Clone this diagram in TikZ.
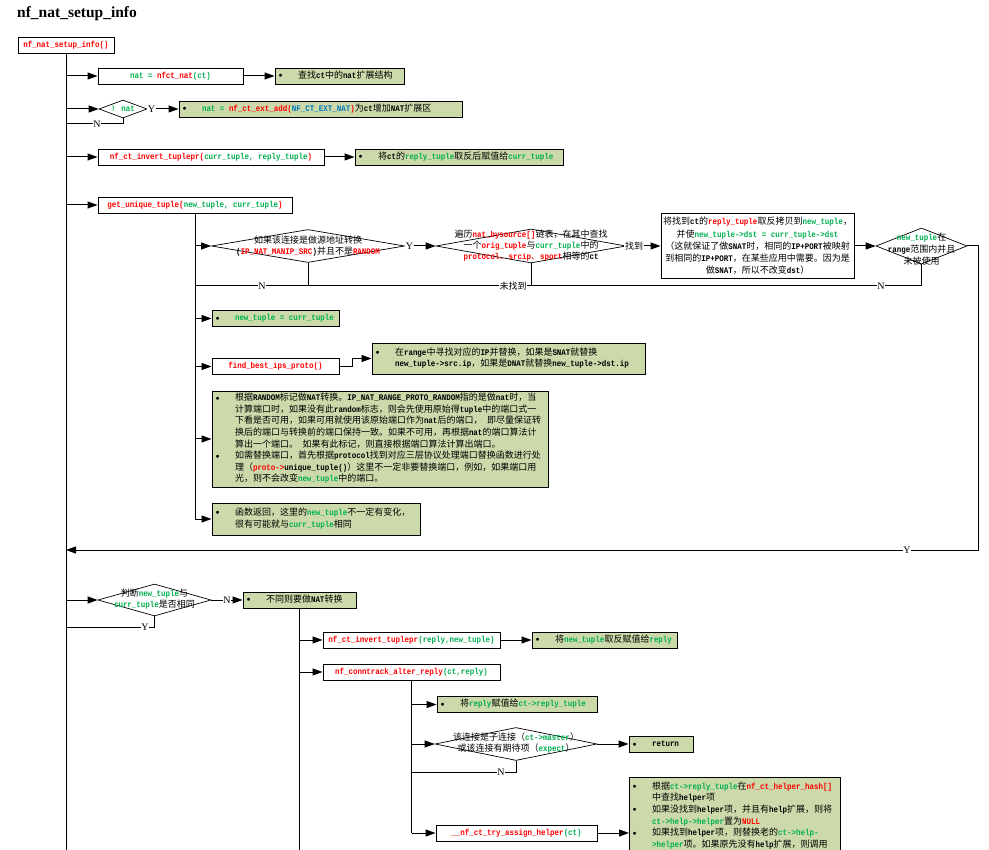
\documentclass[tikz,border=0pt]{standalone}
\usepackage{fontspec}
\setmainfont{Noto Sans CJK SC}
\newfontfamily\monof{Liberation Mono}[Scale=0.95,FakeStretch=0.877]
\newfontfamily\serifl{Liberation Serif}
\usetikzlibrary{shapes.geometric,arrows.meta,calc}
\definecolor{ngreen}{RGB}{204,217,170}
\definecolor{cgreen}{RGB}{0,176,80}
\definecolor{cred}{RGB}{255,0,0}
\definecolor{cteal}{RGB}{0,120,180}
\newcommand\mc[1]{{\monof\bfseries #1}}
\newcommand\gc[1]{{\monof\bfseries\color{cgreen}#1}}
\newcommand\rc[1]{{\monof\bfseries\color{cred}#1}}
\newcommand\bul{\raisebox{0.6pt}{\scriptsize$\bullet$}}
\newcommand\bi{\makebox[23pt][l]{\hspace{3.5pt}\bul}}
\newcommand\LFill[2]{\makebox[#1pt][l]{#2}}
\tikzset{
  frame/.style={draw, line width=0.9pt, inner sep=0pt},
  box/.style={frame, fill=white, minimum height=16pt, text height=6.5pt, text depth=2pt},
  boxm/.style={frame, fill=white},
  note/.style={frame, fill=ngreen},
  note1/.style={note, minimum height=16pt, text height=6.5pt, text depth=2pt},
  dia/.style={draw, diamond, line width=0.7pt, inner sep=0pt, fill=white},
  txt/.style={inner sep=0pt, font=\fontsize{9}{11}\selectfont},
  line/.style={line width=1pt},
  arr/.style={line width=1pt, -{Triangle[length=10pt,width=7pt]}},
  lbl/.style={fill=white, inner sep=0.8pt, font=\serifl\fontsize{10}{10}\selectfont},
  clbl/.style={fill=white, inner sep=0.8pt, font=\fontsize{9}{9}\selectfont},
}
\begin{document}
\begin{tikzpicture}[x=1pt, y=-1pt, font=\fontsize{9}{11.6}\selectfont]
\useasboundingbox (0,0) rectangle (989,850);
\node[anchor=base west, inner sep=0pt, font=\serifl\bfseries\fontsize{15.5}{16}\selectfont] (title) at (17,17.5) {nf\_nat\_setup\_info};

\coordinate (bot) at (66,850);
\coordinate (j1) at (66,124);
\coordinate (j2) at (195,286);
\coordinate (jy) at (978,550);
\coordinate (j5) at (66,627);
\coordinate (j6) at (411.5,772);

% ---- top level ----
\node[box, minimum width=96pt] (b0) at (66,45) {\rc{nf\_nat\_setup\_info()}};
\node[box, minimum width=145pt] (n1) at (170.5,76) {\gc{nat = }\rc{nfct\_nat}\gc{(ct)}};
\node[note1, minimum width=129pt] (n1n) at (339.5,76) {\LFill{129}{\bi 查找\mc{ct}中的\mc{nat}扩展结构}};

\node[dia, minimum width=48pt, minimum height=18pt] (d1) at (123,109) {};
\node[txt] (d1t) at (d1) {\gc{! nat}};
\node[note1, minimum width=283pt] (d1n) at (320.5,109) {\LFill{283}{\bi\gc{nat = }\rc{nf\_ct\_ext\_add(}{\monof\bfseries\color{cteal}NF\_CT\_EXT\_NAT}\rc{)}为\mc{ct}增加\mc{NAT}扩展区}};

\node[box, minimum width=226pt] (n3) at (211,157) {\rc{nf\_ct\_invert\_tuplepr(}\gc{curr\_tuple, reply\_tuple}\rc{)}};
\node[note1, minimum width=208pt] (n3n) at (459,157) {\LFill{208}{\bi 将\mc{ct}的\gc{reply\_tuple}取反后赋值给\gc{curr\_tuple}}};

\node[box, minimum width=194pt] (n4) at (195,205) {\rc{get\_unique\_tuple(}\gc{new\_tuple, curr\_tuple}\rc{)}};

% ---- get_unique_tuple branch ----
\node[dia, minimum width=193pt, minimum height=33pt] (d2) at (308,246) {};
\node[txt, align=center] (d2t) at (308,246) {如果该连接是做源地址转换\\\mc{(}\rc{IP\_NAT\_MANIP\_SRC}\mc{)}并且不是\rc{RANDOM}};

\node[dia, minimum width=190pt, minimum height=34pt] (d3) at (531,246) {};
\node[txt, align=center] (d3t) at (531,246) {遍历\rc{nat\_bysource[]}链表，在其中查找\\一个\rc{orig\_tuple}与\gc{curr\_tuple}中的\\\rc{protocol}{\color{cred}、}\rc{srcip}{\color{cred}、}\rc{sport}相等的\mc{ct}};

\node[boxm, minimum width=193pt, minimum height=65pt, align=center, font=\fontsize{9}{12.3}\selectfont] (b3) at (757.5,246) {将找到\mc{ct}的\rc{reply\_tuple}取反拷贝到\gc{new\_tuple}，\\并使\gc{new\_tuple->dst = curr\_tuple->dst}\\（这就保证了做\mc{SNAT}时，相同的\mc{IP+PORT}被映射\\到相同的\mc{IP+PORT}，在某些应用中需要。因为是\\做\mc{SNAT}，所以不改变\mc{dst}）};

\node[dia, minimum width=91pt, minimum height=36pt] (d4) at (921.5,246) {};
\node[txt, align=center, font=\fontsize{9}{12}\selectfont] (d4t) at (921.5,249) {\gc{new\_tuple}在\\\mc{range}范围内并且\\未被使用};

\node[note1, minimum width=127pt] (s1) at (275.5,318.5) {\LFill{127}{\bi\gc{new\_tuple = curr\_tuple}}};
\node[box, minimum width=127pt] (s2) at (275.5,366.5) {\rc{find\_best\_ips\_proto()}};
\node[note, minimum width=273pt, minimum height=31pt] (s2n) at (508.5,358.5) {\LFill{273}{\begin{tabular}{@{}l@{}l@{}}\bi&在\mc{range}中寻找对应的\mc{IP}并替换，如果是\mc{SNAT}就替换\\&\mc{new\_tuple->src.ip}，如果是\mc{DNAT}就替换\mc{new\_tuple->dst.ip}\end{tabular}}};

\node[note, minimum width=336pt, minimum height=96pt] (s3) at (380,439) {\LFill{336}{\begin{tabular}{@{}l@{}l@{}}
\bi&根据\mc{RANDOM}标记做\mc{NAT}转换。\mc{IP\_NAT\_RANGE\_PROTO\_RANDOM}指的是做\mc{nat}时，当\\
&计算端口时，如果没有此\mc{random}标志，则会先使用原始得\mc{tuple}中的端口式一\\
&下看是否可用，如果可用就使用该原始端口作为\mc{nat}后的端口，\hspace{4.5pt}即尽量保证转\\
&换后的端口与转换前的端口保持一致。如果不可用，再根据\mc{nat}的端口算法计\\
&算出一个端口。\hspace{4.5pt}如果有此标记，则直接根据端口算法计算出端口。\\
\bi&如需替换端口，首先根据\mc{protocol}找到对应三层协议处理端口替换函数进行处\\
&理（\rc{proto->}\mc{unique\_tuple()}）这里不一定非要替换端口，例如，如果端口用\\
&光，则不会改变\gc{new\_tuple}中的端口。
\end{tabular}}};

\node[note, minimum width=208pt, minimum height=32pt] (s4) at (316,519) {\LFill{208}{\begin{tabular}{@{}l@{}l@{}}\bi&函数返回，这里的\gc{new\_tuple}不一定有变化，\\&很有可能就与\gc{curr\_tuple}相同\end{tabular}}};

% ---- compare branch ----
\node[dia, minimum width=113pt, minimum height=32pt] (d5) at (154.5,600) {};
\node[txt, align=center] (d5t) at (154.5,599.5) {判断\gc{new\_tuple}与\\\gc{curr\_tuple}是否相同};
\node[note1, minimum width=113pt] (d5n) at (299.5,600) {\LFill{113}{\bi 不同则要做\mc{NAT}转换}};

\node[box, minimum width=177pt] (r1) at (411.5,640) {\rc{nf\_ct\_invert\_tuplepr}\gc{(reply,new\_tuple)}};
\node[note1, minimum width=145pt] (r1n) at (604.5,640) {\LFill{145}{\bi 将\gc{new\_tuple}取反赋值给\gc{reply}}};
\node[box, minimum width=177pt] (r2) at (411.5,672) {\rc{nf\_conntrack\_alter\_reply}\gc{(ct,reply)}};
\node[note1, minimum width=160pt] (r3) at (517,704.5) {\LFill{160}{\bi 将\gc{reply}赋值给\gc{ct->reply\_tuple}}};

\node[dia, minimum width=162pt, minimum height=33pt] (d6) at (516,744) {};
\node[txt, align=center] (d6t) at (516,743.5) {该连接是子连接（\gc{ct->master}）\\或该连接有期待项（\gc{expect}）};
\node[note1, minimum width=64pt] (d6n) at (661,744.5) {\LFill{64}{\bi\mc{return}}};

\node[box, minimum width=161pt] (r4) at (516.5,833) {\rc{\_\_nf\_ct\_try\_assign\_helper}\gc{(ct)}};
\node[note, anchor=north west, minimum width=211pt, minimum height=100pt] (r4n) at (629,777) {};
\node[anchor=north west, inner sep=0pt] (r4t) at (629,781) {\begin{tabular}{@{}l@{}l@{}}
\bi&根据\gc{ct->reply\_tuple}在\rc{nf\_ct\_helper\_hash[]}\\
&中查找\mc{helper}项\\
\bi&如果没找到\mc{helper}项，并且有\mc{help}扩展，则将\\
&\gc{ct->help->helper}置为\rc{NULL}\\
\bi&如果找到\mc{helper}项，则替换老的\gc{ct->help-}\\
&\gc{>helper}项。如果原先没有\mc{help}扩展，则调用
\end{tabular}};

% ---- connectors ----
\draw[line] (b0.south) -- (bot);
\draw[arr] (b0.south |- n1.west) -- (n1.west);
\draw[arr] (n1.east) -- (n1n.west);
\draw[arr] (b0.south |- d1.west) -- (d1.west);
\draw[arr] (d1.east) -- (d1n.west);
\draw[line] (d1.south) |- (j1);
\draw[arr] (b0.south |- n3.west) -- (n3.west);
\draw[arr] (n3.east) -- (n3n.west);
\draw[arr] (b0.south |- n4.west) -- (n4.west);

\draw[line] (n4.south) -- (n4.south |- s4.west);
\draw[arr] (n4.south |- d2.west) -- (d2.west);
\draw[arr] (d2.east) -- (d3.west);
\draw[arr] (d3.east) -- (d3.east -| b3.west);
\draw[arr] (b3.east) -- (b3.east -| d4.west);
\draw[line] (d2.south) |- (j2);
\draw[line] (d3.south) |- (j2);
\draw[line] (d4.south) |- (j2);
\draw[arr] (d4.east) -| (jy) -- (jy -| b0.south);
\draw[arr] (n4.south |- s1.west) -- (s1.west);
\draw[arr] (n4.south |- s2.west) -- (s2.west);
\draw[arr] (s2.east) -- ++(13,0) |- (s2n.west);
\draw[arr] (n4.south |- s3.west) -- (s3.west);
\draw[arr] (n4.south |- s4.west) -- (s4.west);

\draw[arr] (b0.south |- d5.west) -- (d5.west);
\draw[arr] (d5.east) -- (d5n.west);
\draw[line] (d5.south) |- (j5);
\draw[line] (d5n.south) -- (d5n.south |- bot);
\draw[arr] (d5n.south |- r1.west) -- (r1.west);
\draw[arr] (r1.east) -- (r1n.west);
\draw[arr] (d5n.south |- r2.west) -- (r2.west);
\draw[line] (r2.south) -- (r2.south |- r4.west);
\draw[arr] (r2.south |- r3.west) -- (r3.west);
\draw[arr] (r2.south |- d6.west) -- (d6.west);
\draw[arr] (d6.east) -- (d6.east -| d6n.west);
\draw[line] (d6.south) |- (j6);
\draw[arr] (r2.south |- r4.west) -- (r4.west);
\draw[arr] (r4.east) -- (r4.east -| r4n.west);

% ---- labels ----
\node[lbl] (ly1) at (151.5,109) {Y};
\node[lbl] (ln1) at (97,124) {N};
\node[lbl] (ly2) at (409.5,246) {Y};
\node[clbl] (lf) at (634,246) {找到};
\node[lbl] (ln2) at (262,286) {N};
\node[clbl] (lnf) at (513,286) {未找到};
\node[lbl] (ln3) at (881,286) {N};
\node[lbl] (ly3) at (907,550) {Y};
\node[lbl] (ln5) at (227,600) {N};
\node[lbl] (ly5) at (145,627) {Y};
\node[lbl] (ln6) at (501,772) {N};
\end{tikzpicture}
\end{document}
